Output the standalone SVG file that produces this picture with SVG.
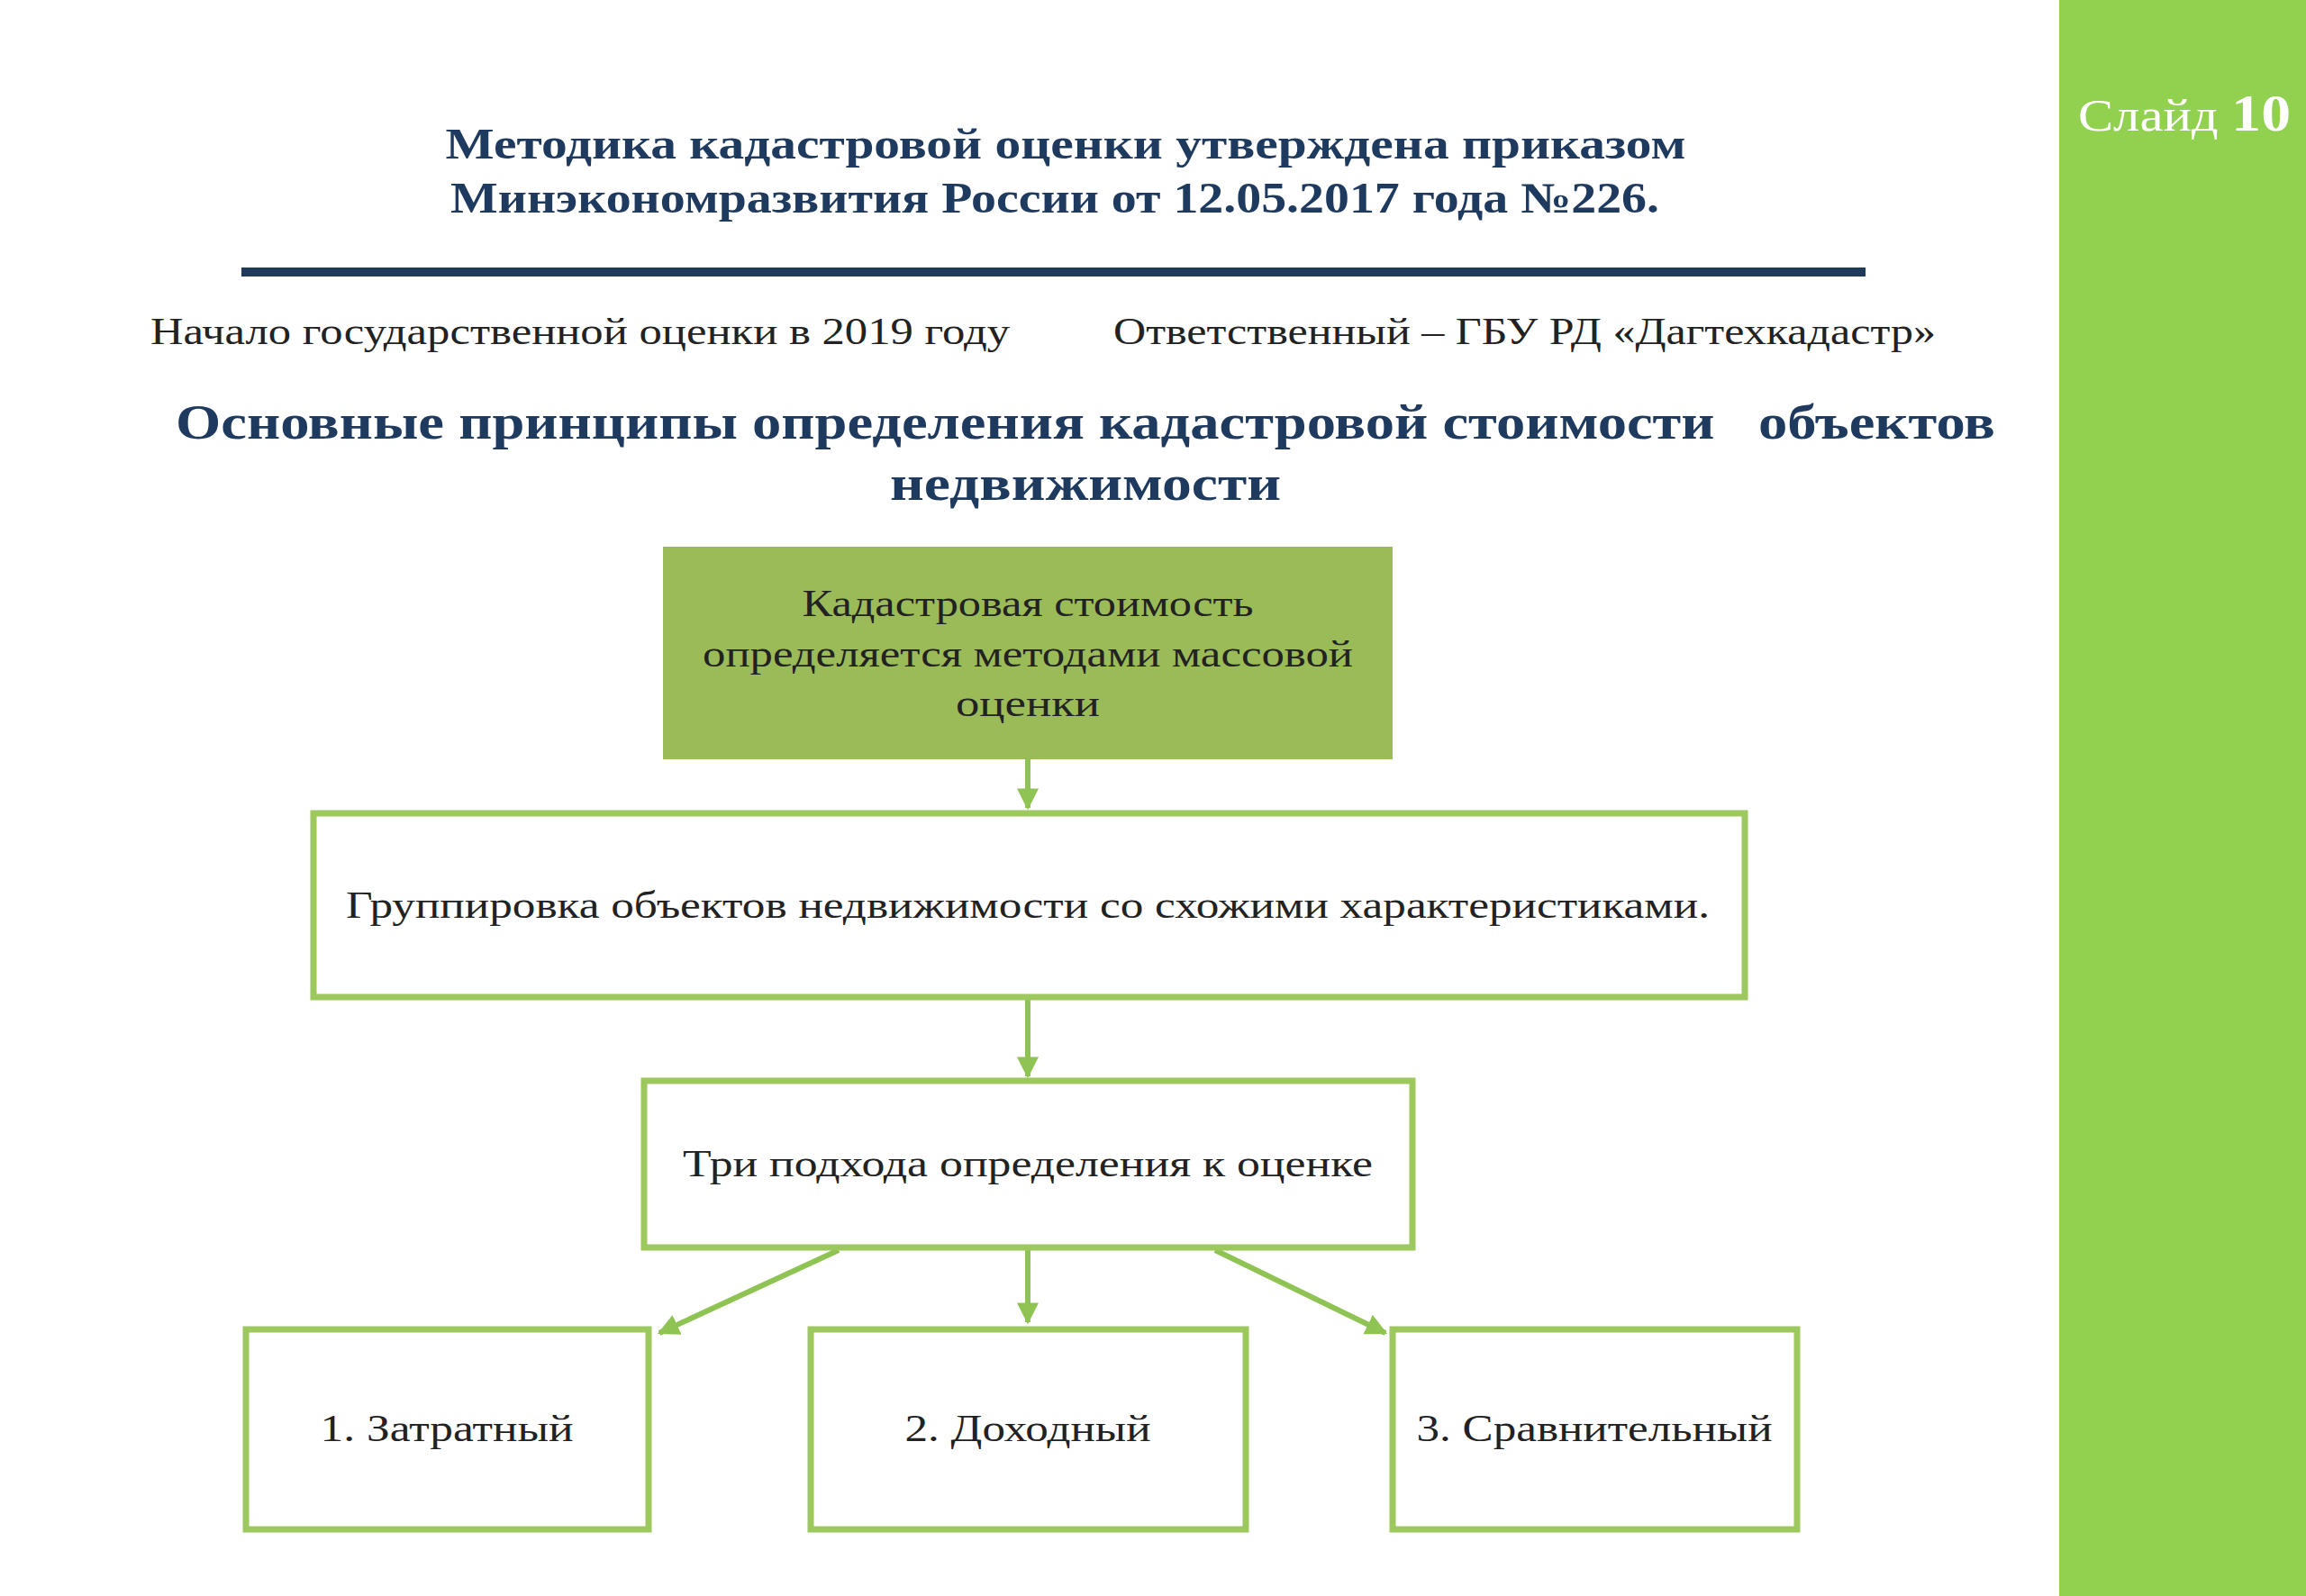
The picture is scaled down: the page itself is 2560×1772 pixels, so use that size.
<svg xmlns="http://www.w3.org/2000/svg" width="2560" height="1772" viewBox="0 0 2560 1772">
<style>
text{font-family:"Liberation Serif","DejaVu Serif",serif}
.h{fill:#1f3a5f;font-weight:bold;text-anchor:middle}
.t{fill:#222;font-size:42px;text-anchor:middle}
.box{fill:#fff;stroke:#9cc85e;stroke-width:7}
.c{stroke:#8fc454;stroke-width:6;fill:none;marker-end:url(#a)}
</style>
<defs><marker id="a" viewBox="0 0 10 10" refX="9" refY="5" markerWidth="4" markerHeight="4" orient="auto" markerUnits="strokeWidth"><path d="M0,0L10,5L0,10z" fill="#8fc454"/></marker></defs>
<rect width="2560" height="1772" fill="#fff"/>
<rect x="2286" y="0" width="274" height="1772" fill="#92d050"/>
<text x="2307" y="145" font-size="50" fill="#fff" textLength="236" lengthAdjust="spacingAndGlyphs">Слайд <tspan font-weight="bold" font-size="56">10</tspan></text>
<text class="h" x="1183" y="176" font-size="48" textLength="1377" lengthAdjust="spacingAndGlyphs">Методика кадастровой оценки утверждена приказом</text>
<text class="h" x="1171" y="236" font-size="48" textLength="1342" lengthAdjust="spacingAndGlyphs">Минэкономразвития России от 12.05.2017 года №226.</text>
<rect x="268" y="297" width="1803" height="10" fill="#203a5c"/>
<text x="167" y="382" font-size="42" fill="#222" textLength="954" lengthAdjust="spacingAndGlyphs">Начало государственной оценки в 2019 году</text>
<text x="1236" y="382" font-size="42" fill="#222" textLength="913" lengthAdjust="spacingAndGlyphs">Ответственный – ГБУ РД «Дагтехкадастр»</text>
<text class="h" x="1205" y="487" font-size="54" xml:space="preserve" textLength="2020" lengthAdjust="spacingAndGlyphs">Основные принципы определения кадастровой стоимости   объектов</text>
<text class="h" x="1205" y="555" font-size="54" textLength="434" lengthAdjust="spacingAndGlyphs">недвижимости</text>
<g id="connectors">
<line class="c" x1="1141" y1="843" x2="1141" y2="897"/>
<line class="c" x1="1141" y1="1107" x2="1141" y2="1195"/>
<line class="c" x1="931" y1="1388" x2="732" y2="1480"/>
<line class="c" x1="1141" y1="1388" x2="1141" y2="1468"/>
<line class="c" x1="1349" y1="1388" x2="1538" y2="1480"/>
</g>
<g id="n1"><rect x="736" y="607" width="810" height="236" fill="#9bbb59"/>
<text class="t" x="1141" y="684" textLength="501" lengthAdjust="spacingAndGlyphs">Кадастровая стоимость</text>
<text class="t" x="1141" y="740" textLength="722" lengthAdjust="spacingAndGlyphs">определяется методами массовой</text>
<text class="t" x="1141" y="795" textLength="160" lengthAdjust="spacingAndGlyphs">оценки</text></g>
<g id="n2"><rect class="box" x="348" y="903" width="1589" height="204"/>
<text class="t" x="1141" y="1019" textLength="1514" lengthAdjust="spacingAndGlyphs">Группировка объектов недвижимости со схожими характеристиками.</text></g>
<g id="n3"><rect class="box" x="715" y="1200" width="853" height="185"/>
<text class="t" x="1141" y="1306" textLength="766" lengthAdjust="spacingAndGlyphs">Три подхода определения к оценке</text></g>
<g id="n4"><rect class="box" x="273" y="1476" width="447" height="222"/>
<text class="t" x="496" y="1600" textLength="281" lengthAdjust="spacingAndGlyphs">1. Затратный</text></g>
<g id="n5"><rect class="box" x="900" y="1476" width="483" height="222"/>
<text class="t" x="1141" y="1600" textLength="273" lengthAdjust="spacingAndGlyphs">2. Доходный</text></g>
<g id="n6"><rect class="box" x="1546" y="1476" width="449" height="222"/>
<text class="t" x="1770" y="1600" textLength="395" lengthAdjust="spacingAndGlyphs">3. Сравнительный</text></g>
</svg>
